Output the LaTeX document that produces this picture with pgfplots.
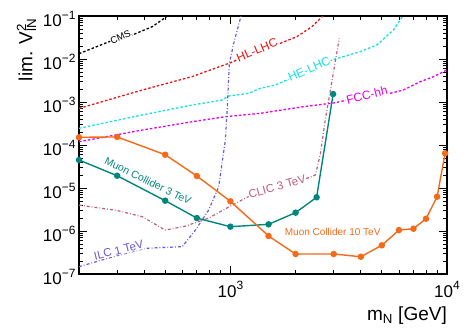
\documentclass[border=0pt]{standalone}
\usepackage{fontspec}
\setmainfont{Liberation Sans}
\usepackage{pgfplots}
\pgfplotsset{compat=1.18}

\definecolor{mcten}{RGB}{245,105,25}
\definecolor{mcthree}{RGB}{0,135,125}
\definecolor{clic}{RGB}{190,95,125}
\definecolor{ilc}{RGB}{105,90,215}
\definecolor{hllhc}{RGB}{235,20,20}
\definecolor{helhc}{RGB}{20,225,230}
\definecolor{fcchh}{RGB}{230,0,230}

\newcommand{\tl}[1]{10\raisebox{0.45em}{\fontsize{12}{12}\selectfont #1}}

\begin{document}
\begin{tikzpicture}
\begin{axis}[
  at={(79pt,61pt)}, anchor=south west,
  scale only axis, width=368pt, height=258pt,
  xmode=log, ymode=log,
  xmin=200, xmax=10000, ymin=1e-7, ymax=1e-1,
  xtick={1000,10000}, xticklabels={\tl{3},\tl{4}},
  minor xtick={200,300,400,500,600,700,800,900,2000,3000,4000,5000,6000,7000,8000,9000},
  ytick={1e-7,1e-6,1e-5,1e-4,1e-3,1e-2,1e-1},
  yticklabels={\tl{−7},\tl{−6},\tl{−5},\tl{−4},\tl{−3},\tl{−2},\tl{−1}},
  minor ytick={2e-7,3e-7,4e-7,5e-7,6e-7,7e-7,8e-7,9e-7,
               2e-6,3e-6,4e-6,5e-6,6e-6,7e-6,8e-6,9e-6,
               2e-5,3e-5,4e-5,5e-5,6e-5,7e-5,8e-5,9e-5,
               2e-4,3e-4,4e-4,5e-4,6e-4,7e-4,8e-4,9e-4,
               2e-3,3e-3,4e-3,5e-3,6e-3,7e-3,8e-3,9e-3,
               2e-2,3e-2,4e-2,5e-2,6e-2,7e-2,8e-2,9e-2},
  tick align=inside, major tick length=8pt, minor tick length=4pt,
  axis line style={line width=1.2pt},
  every tick/.style={black, line width=0.8pt},
  tick label style={font=\fontsize{17}{18}\selectfont},
  xticklabel style={yshift=-4pt},
  yticklabel style={yshift=-3pt},
  xlabel={m\textsubscript{N} [GeV]},
  xlabel style={font=\fontsize{19}{20}\selectfont, inner sep=0pt,
    at={(axis description cs:1,0)}, anchor=base east, yshift=-46pt},
  ylabel={lim. V\rlap{\textsuperscript{2}}\textsubscript{lN}},
  ylabel style={font=\fontsize{19}{20}\selectfont, inner sep=0pt,
    at={(axis description cs:-0.1427,0.99)}, anchor=east},
]
% CMS
\addplot[black, line width=1.3pt, dash pattern=on 2.5pt off 2pt] coordinates {
 (200,1.33e-2) (275,2.52e-2) (352,3.61e-2) (436,5.64e-2) (502,9.3e-2) (540,1.3e-1)};
% HL-LHC
\addplot[hllhc, line width=1.3pt, dash pattern=on 2.5pt off 2pt] coordinates {
 (200,7.1e-4) (392,1.9e-3) (666,3.9e-3) (1000,8.2e-3) (1200,1.2e-2) (1500,1.83e-2)
 (1700,2.32e-2) (2027,3.3e-2) (2377,5.64e-2) (2648,9.6e-2) (2750,1.2e-1)};
% HE-LHC
\addplot[helhc, line width=1.3pt, dash pattern=on 2.5pt off 2pt] coordinates {
 (200,2.44e-4) (392,5.0e-4) (666,8.5e-4) (915,1.11e-3) (982,1.38e-3) (1214,1.59e-3)
 (1375,2.08e-3) (1611,2.48e-3) (1825,3.25e-3) (2944,9.5e-3) (3973,1.48e-2)
 (4742,2.12e-2) (5660,4.72e-2) (6250,1.0e-1) (6400,1.3e-1)};
% FCC-hh
\addplot[fcchh, line width=1.3pt, dash pattern=on 2.5pt off 2pt] coordinates {
 (200,1.19e-4) (392,2.23e-4) (666,3.48e-4) (948,4.55e-4) (1375,5.46e-4) (2178,7.8e-4)
 (3000,9.5e-4) (4000,1.3e-3) (5454,1.59e-3) (6290,1.9e-3) (7515,2.96e-3) (8653,3.87e-3) (10000,5.6e-3)};
% CLIC 3 TeV
\addplot[clic, line width=1.2pt, dash pattern=on 3pt off 2pt on 0.8pt off 2pt] coordinates {
 (200,4.0e-6) (300,3.0e-6) (392,2.15e-6) (500,1.05e-6) (620,1.3e-6) (795,2.0e-6)
 (950,3.3e-6) (1194,6.1e-6) (1700,1.07e-5) (2255,1.68e-5) (2466,2.0e-5)
 (2600,6e-5) (2740,3.8e-4) (2950,3.25e-3) (3180,3.0e-2)};
% ILC 1 TeV
\addplot[ilc, line width=1.2pt, dash pattern=on 3pt off 2pt on 0.8pt off 2pt] coordinates {
 (200,1.48e-7) (300,2.68e-7) (405,3.96e-7) (599,4.32e-7) (690,1.05e-6) (794,3.08e-6)
 (883,1.07e-5) (948,1.31e-4) (966,6.5e-4) (989,7.94e-3) (1036,2.32e-2) (1112,8.85e-2) (1140,1.3e-1)};
% Muon Collider 3 TeV
\addplot[mcthree, line width=1.4pt, mark=*, mark size=2.5pt, mark options={solid}] coordinates {
 (200,4.48e-5) (300,1.93e-5) (500,5.07e-6) (700,2.0e-6) (1000,1.26e-6) (1500,1.43e-6)
 (2000,2.67e-6) (2500,6.08e-6) (2980,1.53e-3)};
% Muon Collider 10 TeV
\addplot[mcten, line width=1.4pt, mark=*, mark size=2.5pt, mark options={solid}] coordinates {
 (200,1.51e-4) (300,1.54e-4) (500,5.94e-5) (700,1.9e-5) (1000,4.91e-6) (1500,7.66e-7)
 (2000,2.92e-7) (3000,2.92e-7) (4000,2.52e-7) (5000,4.65e-7) (6000,1.05e-6)
 (7000,1.13e-6) (8000,1.93e-6) (9000,6.28e-6) (9800,6.41e-5)};

\node[rotate=23.5, font=\fontsize{9.5}{10}\selectfont, text=black, fill=white, inner sep=0.5pt] at (axis cs:311,3.25e-2) {CMS};
\node[rotate=22.5, font=\fontsize{12}{12}\selectfont, text=hllhc, fill=white, inner sep=0.5pt] at (axis cs:1327,1.62e-2) {HL-LHC};
\node[rotate=23.7, font=\fontsize{12}{12}\selectfont, text=helhc, fill=white, inner sep=0.5pt] at (axis cs:2312,5.85e-3) {HE-LHC};
\node[rotate=14, font=\fontsize{12}{12}\selectfont, text=fcchh, fill=white, inner sep=0.5pt] at (axis cs:4266,1.46e-3) {FCC-hh};
\node[rotate=15.5, font=\fontsize{11.5}{12}\selectfont, text=clic, fill=white, inner sep=0.5pt] at (axis cs:1642,1.07e-5) {CLIC 3 TeV};
\node[rotate=14, font=\fontsize{11.5}{12}\selectfont, text=ilc, fill=white, inner sep=0.5pt] at (axis cs:305,3.56e-7) {ILC 1 TeV};
\node[rotate=-26, font=\fontsize{10.5}{11}\selectfont, text=mcthree] at (axis cs:417,1.46e-5) {Muon Collider 3 TeV};
\node[font=\fontsize{10}{11}\selectfont, text=mcten] at (axis cs:2966,9.64e-7) {Muon Collider 10 TeV};
\end{axis}
\pgfresetboundingbox
\path[use as bounding box] (0,0) rectangle (474pt,335pt);
\end{tikzpicture}
\end{document}
